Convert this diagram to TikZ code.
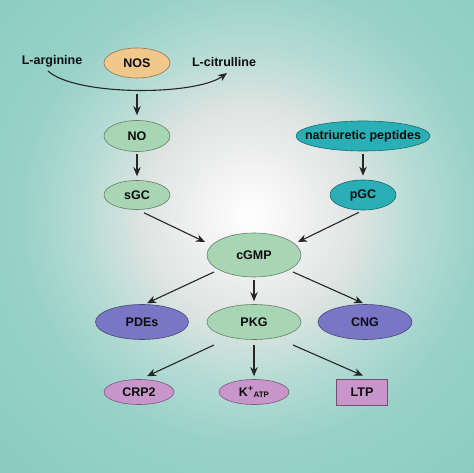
\documentclass[tikz,border=0pt]{standalone}
\usepackage{fontspec}
\setmainfont{Liberation Sans}
\usepackage{xcolor}
\usepackage{tikz}
\usetikzlibrary{arrows.meta,shapes.geometric}

\definecolor{bgwhite}{RGB}{247,247,247}
\definecolor{bggrey}{RGB}{224,228,226}
\definecolor{bgmint}{RGB}{182,220,212}
\definecolor{bgteal}{RGB}{152,209,200}
\definecolor{bgedge}{RGB}{136,203,193}
\definecolor{nosfill}{RGB}{240,200,140}
\definecolor{sage}{RGB}{168,213,180}
\definecolor{cyanfill}{RGB}{42,175,183}
\definecolor{violet}{RGB}{121,118,198}
\definecolor{lilac}{RGB}{200,150,202}

\pgfdeclareradialshading{bgglow}{\pgfpoint{0bp}{0bp}}{color(0bp)=(white); color(30bp)=(bgwhite); color(105bp)=(bggrey); color(165bp)=(bgmint); color(230bp)=(bgteal); color(370bp)=(bgedge)}

\begin{document}
\begin{tikzpicture}[
    x=1pt,
    y=-1pt,
    every node/.style={font=\bfseries\fontsize{12.5}{14}\selectfont, text=black!95},
    oval/.style={ellipse, draw=#1!60!black, fill=#1, line width=0.6pt, inner sep=0pt},
    tag/.style={draw=#1!55!black, fill=#1, line width=0.6pt, inner sep=0pt},
    arr/.style={-{Stealth[length=9pt,width=7.5pt,inset=2.8pt]}, line width=1.1pt, draw=black!85}
]
% Background
\useasboundingbox (0,0) rectangle (474,473);
\clip (0,0) rectangle (474,473);
\node[inner sep=0pt] (glow) at (250,215) {\pgfuseshading{bgglow}};

% NOS reaction
\node (larg) at (52,61) {L-arginine};
\node[oval=nosfill, minimum width=66pt, minimum height=30pt] (nos) at (137,63) {NOS};
\node (lcit) at (224,62) {L-citrulline};
\coordinate (nosout) at (137,94);

% Guanylate cyclases
\node[oval=sage, minimum width=66pt, minimum height=31pt] (no) at (137,136) {NO};
\node[oval=sage, minimum width=66pt, minimum height=29pt] (sgc) at (137,195) {sGC};
\node[oval=cyanfill, minimum width=134pt, minimum height=30pt, inner xsep=-11pt] (natri) at (363,136) {natriuretic peptides};
\node[oval=cyanfill, minimum width=66pt, minimum height=30pt] (pgc) at (363,195) {pGC};

\node[oval=sage, minimum width=94pt, minimum height=44pt] (cgmp) at (254,255) {cGMP};

% Targets
\node[oval=violet, minimum width=93pt, minimum height=35pt] (pdes) at (142,322) {PDEs};
\node[oval=sage, minimum width=94pt, minimum height=35pt] (pkg) at (254,322) {PKG};
\node[oval=violet, minimum width=94pt, minimum height=35pt] (cng) at (365,322) {CNG};

\node[oval=lilac, minimum width=70pt, minimum height=25pt] (crp) at (139,392) {CRP2};
\node[oval=lilac, minimum width=70pt, minimum height=25pt] (katp) at (254,392) {K\textsuperscript{+}\raisebox{-0.8pt}{\fontsize{8}{9}\selectfont ATP}};
\node[tag=lilac, minimum width=51pt, minimum height=26pt] (ltp) at (362,392) {LTP};

% Connectors
\draw[arr] ([shift={(-4,10)}]larg.center) .. controls (75,96) and (195,96) .. ([shift={(3,11)}]lcit.center);
\draw[arr] (nosout) -- ([shift={(0,-5)}]no.north);
\draw[arr] ([shift={(0,2.5)}]no.south) -- ([shift={(0,-4)}]sgc.north);
\draw[arr] ([shift={(0,2.5)}]natri.south) -- ([shift={(0,-4)}]pgc.north);
\draw[arr] ([shift={(7,3)}]sgc.south) -- ([shift={(-49,-13)}]cgmp.center);
\draw[arr] ([shift={(-4,2)}]pgc.south) -- ([shift={(44,-13)}]cgmp.center);

\draw[arr] ([shift={(-40,17)}]cgmp.center) -- ([shift={(5,-1)}]pdes.north);
\draw[arr] ([shift={(0,3)}]cgmp.south) -- ([shift={(0,-3)}]pkg.north);
\draw[arr] ([shift={(39,17)}]cgmp.center) -- ([shift={(-2,-1)}]cng.north);

\draw[arr] ([shift={(-40,23)}]pkg.center) -- ([shift={(8,-3)}]crp.north);
\draw[arr] ([shift={(0,5.5)}]pkg.south) -- ([shift={(0,-3)}]katp.north);
\draw[arr] ([shift={(39,23)}]pkg.center) -- ([shift={(1,-3)}]ltp.north);
\end{tikzpicture}
\end{document}
